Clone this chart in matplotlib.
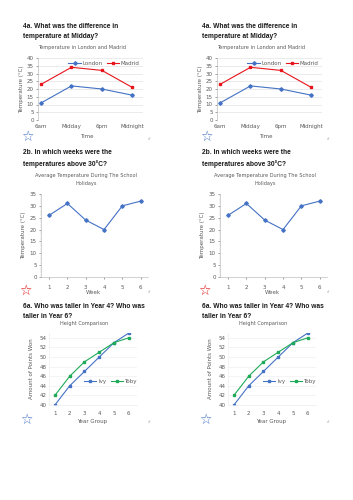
import matplotlib.pyplot as plt
from matplotlib.ticker import MultipleLocator

# --------------------------------------------------
# Data read off the worksheet
# --------------------------------------------------
times = ["6am", "Midday", "6pm", "Midnight"]
london = [11, 22, 20, 16]
madrid = [23, 34, 32, 21]

weeks = [1, 2, 3, 4, 5, 6]
week_temps = [26, 31, 24, 20, 30, 32]

year_groups = [1, 2, 3, 4, 5, 6]
ivy = [40, 44, 47, 50, 53, 55]
toby = [42, 46, 49, 51, 53, 54]

BLUE = "#4472C4"
RED = "#E8141B"
GREEN = "#1FAA59"
GRID = "#E3E3E3"
TXT = "#595959"
Q_FONT = ["Liberation Sans", "DejaVu Sans"]
Q_SIZE = 4.8

W, H = 353, 500
fig = plt.figure(figsize=(W / 100, H / 100), dpi=100)


def box(l, t, r, b):
    # pixel box -> figure fraction
    return [l / W, 1 - b / H, (r - l) / W, (b - t) / H]


def ftext(x, y, s, **kw):
    fig.text(x / W, 1 - y / H, s, **kw)


def question(x, y, s):
    ftext(x, y, s, fontsize=Q_SIZE, fontweight="bold", family=Q_FONT,
          va="center", color="#1A1A1A")


def style(ax):
    ax.tick_params(labelsize=4, colors=TXT, length=1.5, width=0.4, pad=1.5)
    for sp in ax.spines.values():
        sp.set_color("#BFBFBF")
        sp.set_linewidth(0.5)


for dx in (0, 179):
    # --------------------------------------------------
    # 4a. London vs Madrid
    # --------------------------------------------------
    question(23 + dx, 27, "4a. What was the difference in")
    question(23 + dx, 37, "temperature at Midday?")
    ftext(82 + dx, 47, "Temperature in London and Madrid", fontsize=3.6,
          color=TXT, ha="center", va="center")

    ax = fig.add_axes(box(38 + dx, 58, 143 + dx, 120))
    x = range(len(times))
    ax.plot(x, london, color=BLUE, lw=0.8, marker="D", ms=1.8, label="London")
    ax.plot(x, madrid, color=RED, lw=0.8, marker="s", ms=1.8, label="Madrid")
    ax.set_xlim(-0.1, 3.35)
    ax.set_ylim(0, 40)
    ax.set_yticks(range(0, 41, 5))
    ax.set_xticks(list(x))
    ax.set_xticklabels(times)
    ax.grid(axis="y", color=GRID, lw=0.5)
    ax.set_axisbelow(True)
    style(ax)
    for sp in ("top", "right", "bottom"):
        ax.spines[sp].set_visible(False)
    ax.tick_params(axis="x", length=0, pad=3)
    ax.set_ylabel("Temperature (°C)", fontsize=4, color=TXT, labelpad=2)
    ax.legend(loc="upper right", fontsize=4, frameon=False, ncol=2,
              handlelength=2.2, columnspacing=0.8, handletextpad=0.3,
              borderaxespad=0.2, labelcolor=TXT)
    ftext(87 + dx, 137, "Time", fontsize=4, color=TXT, ha="center", va="center")
    ftext(27 + dx, 137, "☆", fontsize=10, color=BLUE, ha="center", va="center")
    ftext(150 + dx, 139, "vf", fontsize=2.5, color="#999999", ha="center", va="center")

    # --------------------------------------------------
    # 2b. Weekly temperatures
    # --------------------------------------------------
    question(23 + dx, 153, "2b. In which weeks were the")
    question(23 + dx, 164, "temperatures above 30°C?")
    ftext(86 + dx, 175, "Average Temperature During The School", fontsize=3.6,
          color=TXT, ha="center", va="center")
    ftext(86 + dx, 184, "Holidays", fontsize=3.6, color=TXT, ha="center", va="center")

    ax = fig.add_axes(box(41 + dx, 194, 148 + dx, 277))
    ax.plot(weeks, week_temps, color=BLUE, lw=0.8, marker="D", ms=1.8)
    ax.set_xlim(0.56, 6.4)
    ax.set_ylim(0, 35)
    ax.set_yticks(range(0, 36, 5))
    ax.set_xticks(weeks)
    ax.yaxis.set_minor_locator(MultipleLocator(1))
    ax.xaxis.set_minor_locator(MultipleLocator(0.5))
    style(ax)
    ax.tick_params(which="minor", length=1, width=0.3, colors="#BFBFBF")
    ax.tick_params(axis="x", pad=4)
    for sp in ("top", "right"):
        ax.spines[sp].set_visible(False)
    ax.set_ylabel("Temperature (°C)", fontsize=4, color=TXT, labelpad=3)
    ftext(93 + dx, 293, "Week", fontsize=4, color=TXT, ha="center", va="center")
    ftext(25 + dx, 291, "☆", fontsize=10, color="#E01010", ha="center", va="center")
    ftext(150 + dx, 292, "vf", fontsize=2.5, color="#999999", ha="center", va="center")

    # --------------------------------------------------
    # 6a. Height comparison
    # --------------------------------------------------
    question(23 + dx, 306, "6a. Who was taller in Year 4? Who was")
    question(23 + dx, 316, "taller in Year 6?")
    ftext(84 + dx, 324, "Height Comparison", fontsize=3.6, color=TXT,
          ha="center", va="center")

    ax = fig.add_axes(box(49 + dx, 333, 137 + dx, 405))
    ax.plot(year_groups, ivy, color=BLUE, lw=0.8, marker="s", ms=1.8, label="Ivy")
    ax.plot(year_groups, toby, color=GREEN, lw=0.8, marker="s", ms=1.8, label="Toby")
    ax.set_xlim(0.6, 6.55)
    ax.set_ylim(40, 55)
    ax.set_yticks(range(40, 55, 2))
    ax.set_xticks(year_groups)
    ax.grid(axis="y", color="#F0F0F0", lw=0.5)
    ax.set_axisbelow(True)
    style(ax)
    ax.spines["left"].set_color("#EDEDED")
    ax.spines["bottom"].set_color("#EDEDED")
    for sp in ("top", "right"):
        ax.spines[sp].set_visible(False)
    ax.tick_params(axis="both", length=0)
    ax.tick_params(axis="x", pad=4)
    ax.set_ylabel("Amount of Points Won", fontsize=4, color=TXT, labelpad=4)
    ax.legend(loc="center", bbox_to_anchor=(0.7, 0.33), fontsize=4, frameon=False,
              ncol=2, handlelength=2.2, columnspacing=0.8, handletextpad=0.3,
              labelcolor=TXT)
    ftext(92 + dx, 422, "Year Group", fontsize=4, color=TXT, ha="center", va="center")
    ftext(26 + dx, 420, "☆", fontsize=10, color=BLUE, ha="center", va="center")
    ftext(150 + dx, 422, "vf", fontsize=2.5, color="#999999", ha="center", va="center")

fig.savefig("out.png", dpi=100)
